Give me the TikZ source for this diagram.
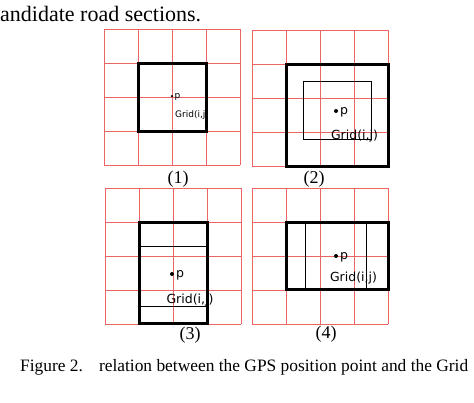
\documentclass[tikz,border=0pt]{standalone}
\usepackage{fontspec}
\setmainfont{Liberation Serif}
\newfontfamily\gridsans{DejaVu Sans}
\usetikzlibrary{positioning}
\definecolor{gridred}{RGB}{236,100,100}

\begin{document}
\begin{tikzpicture}[
  x=1pt, y=-1pt,
  gridline/.style={draw=gridred, line width=0.7pt},
  box/.style={draw=black, line width=3pt},
  thinline/.style={draw=black, line width=0.8pt},
  ptdot/.style={circle, fill=black, inner sep=0pt, minimum size=4pt},
  sans/.style={font=\gridsans\fontsize{12.5}{12.5}\selectfont, inner sep=0pt},
  tiny/.style={font=\gridsans\fontsize{9}{9}\selectfont, inner sep=0pt},
  tag/.style={font=\fontsize{18}{18}\selectfont, inner sep=0pt}
]
  \useasboundingbox (0,0) rectangle (474,402);
  \clip (0,0) rectangle (474,402);

  % text around the figure
  \node[anchor=base west, inner sep=0pt, font=\fontsize{22}{22}\selectfont] (head) at (0,21) {andidate road sections.};
  \node[anchor=base west, inner sep=0pt, font=\fontsize{17.4}{17.4}\selectfont] (cap) at (20,371)
    {Figure 2.\hspace{16pt}relation between the GPS position point and the Grid};

  % the four 4x4 grids
  \foreach \ox/\oy in {104/29, 252/30, 105/188, 252/188} {
    \foreach \k in {0,...,4} {
      \draw[gridline] (\ox+\k*34,\oy) -- (\ox+\k*34,\oy+136);
      \draw[gridline] (\ox,\oy+\k*34) -- (\ox+136,\oy+\k*34);
    }
  }

  % (1)
  \begin{scope}[shift={(104,29)}]
    \draw[box] (34,34) rectangle (102,102);
    \node[ptdot, minimum size=2.5pt] (p1) at (68,67) {};
    \node[tiny, anchor=base west] (p1lbl) at ([xshift=2.5pt, yshift=-2.5pt]p1.center) {p};
    \node[tiny] (g1) at (88,86) {Grid(i,j)};
  \end{scope}
  \node[tag] (t1) at (178,179) {(1)};

  % (2)
  \begin{scope}[shift={(252,30)}]
    \draw[box] (34,34) rectangle (136,136);
    \draw[thinline] (51,51) rectangle (119,109);
    \node[ptdot] (p2) at (84,81) {};
    \node[sans, anchor=base west] (p2lbl) at ([xshift=4pt, yshift=-3.5pt]p2.center) {p};
    \node[sans] (g2) at (102.5,106) {Grid(i,j)};
  \end{scope}
  \node[tag] (t2) at (314,179) {(2)};

  % (3)
  \begin{scope}[shift={(105,188)}]
    \draw[box] (34,34) rectangle (102,135);
    \draw[thinline] (34,58) -- (102,58);
    \draw[thinline] (34,118) -- (102,118);
    \node[ptdot] (p3) at (67,86) {};
    \node[sans, anchor=base west] (p3lbl) at ([xshift=4pt, yshift=-3.5pt]p3.center) {p};
    \node[sans] (g3) at (85,112) {Grid(i,j)};
  \end{scope}
  \node[tag] (t3) at (190,335) {(3)};

  % (4)
  \begin{scope}[shift={(252,188)}]
    \draw[box] (34,34) rectangle (136,101);
    \draw[thinline] (53,34) -- (53,101);
    \draw[thinline] (114,34) -- (114,101);
    \node[ptdot] (p4) at (84,68) {};
    \node[sans, anchor=base west] (p4lbl) at ([xshift=4pt, yshift=-3.5pt]p4.center) {p};
    \node[sans] (g4) at (101.5,90) {Grid(i,j)};
  \end{scope}
  \node[tag] (t4) at (326,334) {(4)};
\end{tikzpicture}
\end{document}
